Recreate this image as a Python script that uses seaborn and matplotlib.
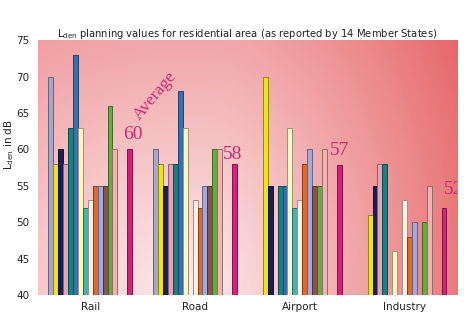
import numpy as np
import pandas as pd
import matplotlib
matplotlib.use("Agg")
import matplotlib.pyplot as plt
import seaborn as sns

# ---------------- data ----------------
categories = ["Rail", "Road", "Airport", "Industry"]
states = ["S1", "S2", "S3", "S4", "S5", "S6", "S7", "S8", "S9", "S10",
          "S11", "S12", "S13", "S14"]
blank_slots = ["gap1", "gap2"]
rail = [70, 58, 60, 58, 63, 73, 63, 52, 53, 55, 55, 55, 66, 60]
road = [60, 58, 55, 58, 58, 68, 63, np.nan, 53, 52, 55, 55, 60, 60]
airport = [np.nan, 70, 55, np.nan, 55, 55, 63, 52, 53, 58, 60, 55, 55, 60]
industry = [np.nan, 51, 55, 58, 58, np.nan, 46, np.nan, 53, 48, 50, np.nan, 50, 55]
average = [60, 58, 57.8, 52]
average_labels = ["60", "58", "57", "52"]
state_colors = ["#a9a6cc", "#f2e21e", "#1b1f4f", "#e2a4b6", "#1a7f80",
                "#3a6fae", "#fff6c4", "#45b3b0", "#fff0e2", "#e2692a",
                "#a3a9da", "#8b5252", "#6aaa3e", "#f2b2b2"]
avg_color = "#d6207a"

# ---------------- table ----------------
rows = []
for cat, vals in zip(categories, [rail, road, airport, industry]):
    for s, v in zip(states, vals):
        rows.append({"cat": cat, "series": s, "value": v})
for cat, v in zip(categories, average):
    rows.append({"cat": cat, "series": "Average", "value": v})
df = pd.DataFrame(rows)
hue_order = states + blank_slots + ["Average"]
palette = state_colors + ["#ffffff", "#ffffff"] + [avg_color]

# ---------------- figure ----------------
sns.set_style("white")
plt.rcParams["font.family"] = ["DejaVu Sans"]
fig = plt.figure(figsize=(4.74, 3.21), dpi=100)
ax = fig.add_axes([0.080, 0.081, 0.884, 0.794])

# background gradient
nx, ny = 300, 200
u = np.linspace(0, 1, nx)[None, :]
v = np.linspace(0, 1, ny)[:, None]
dx = u - 0.38
sx = np.where(dx > 0, 1.21, 0.62)
t = np.sqrt((dx * sx) ** 2 + (v * 0.45) ** 2)
t = np.clip(t * 1.08, 0, 1)[..., None]
c0 = np.array([253, 236, 238]) / 255.0
c1 = np.array([229, 96, 98]) / 255.0
img = c0 + (c1 - c0) * t
ax.imshow(img, extent=[-0.5, 3.5, 40, 75], origin="lower", aspect="auto", zorder=0)

sns.barplot(data=df, x="cat", y="value", hue="series", hue_order=hue_order,
            order=categories, palette=palette, saturation=1, width=0.8,
            errorbar=None, legend=False, ax=ax, zorder=2)

for p in ax.patches:
    fc = np.array(p.get_facecolor()[:3])
    p.set_edgecolor(tuple(fc * 0.6))
    p.set_linewidth(0.7)

ax.set_xlim(-0.5, 3.5)
ax.set_ylim(40, 75)
ax.set_yticks([40, 45, 50, 55, 60, 65, 70, 75])
ax.tick_params(axis="both", length=0, labelsize=7.5, colors="#222222")
ax.tick_params(axis="y", pad=6)
ax.tick_params(axis="x", pad=5)
for s in ax.spines.values():
    s.set_visible(False)
ax.set_xlabel("")
ax.set_ylabel("L$_{\\rm den}$ in dB", fontsize=7.5, color="#222222")
ax.yaxis.set_label_coords(-0.052, 0.59)
ax.set_title("L$_{\\rm den}$ planning values for residential area (as reported by 14 Member States)",
             fontsize=7.2, color="#222222", pad=2.5)

serif = ["Liberation Serif", "DejaVu Serif"]
txt_col = "#cc2a72"
label_pos = [(0.41, 62.0), (1.358, 59.3), (2.383, 59.8), (3.465, 54.55)]
for (xp, yp), lab in zip(label_pos, average_labels):
    ax.text(xp, yp, lab, family=serif, fontsize=14, color=txt_col,
            ha="center", va="center", clip_on=True, zorder=3)
ax.text(0.62, 67.4, "Average", family=serif, fontsize=12.5, color=txt_col,
        rotation=50, ha="center", va="center", zorder=3)

fig.savefig("out.png", dpi=100)
